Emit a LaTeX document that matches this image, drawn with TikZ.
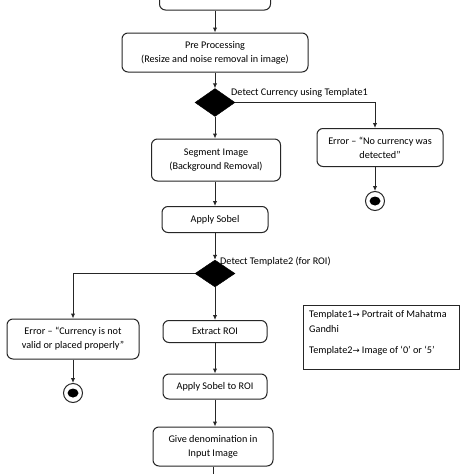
\documentclass[tikz,border=0pt]{standalone}
\usepackage{fontspec}
\setmainfont{Carlito}
\newfontfamily\symfont{DejaVu Sans}
\usetikzlibrary{arrows.meta,shapes.geometric}
\begin{document}
\begin{tikzpicture}[x=1pt,y=-1pt,
  line/.style={draw=black!85,line width=1pt},
  arr/.style={line,-{Latex[length=5pt,width=4.5pt]}},
  box/.style={line,rounded corners=6pt,align=center,inner sep=0pt,
    font=\fontsize{10.2}{14}\selectfont},
  dec/.style={diamond,fill=black,draw=black,inner sep=0pt,
    minimum width=40pt,minimum height=28pt},
  lbl/.style={font=\fontsize{10.2}{14}\selectfont,inner sep=0pt,anchor=west},
  endouter/.style={circle,line,fill=white,minimum size=19pt,inner sep=0pt},
  endinner/.style={ellipse,fill=black,minimum width=11pt,minimum height=9pt,inner sep=0pt}
]
\useasboundingbox (0,0) rectangle (474,474);
\clip (0,0) rectangle (474,474);
\fill[white] (0,0) rectangle (474,474);

\node[box,minimum width=111pt,minimum height=40pt] (top) at (215,-10) {};
\node[box,minimum width=186pt,minimum height=39pt] (pre) at (215,52.5)
  {Pre Processing\\(Resize and noise removal in image)};
\node[dec] (d1) at (215,102.5) {};
\node[lbl] (l1) at (231,93) {Detect Currency using Template1};
\node[box,minimum width=126pt,minimum height=38pt] (e1) at (380,147.5)
  {Error -- “No currency was\\detected”};
\node[endouter] (end1) at (375,201) {};
\node[endinner] at (end1) {};
\node[box,minimum width=129pt,minimum height=42pt] (seg) at (216,160)
  {Segment Image\\(Background Removal)};
\node[box,minimum width=106pt,minimum height=26pt] (sobel) at (215,219.5)
  {Apply Sobel};
\node[dec,minimum height=27pt] (d2) at (215,273.5) {};
\node[lbl] (l2) at (220,262) {Detect Template2 (for ROI)};
\node[box,minimum width=132pt,minimum height=40pt] (e2) at (73,339)
  {Error -- “Currency is not\\valid or placed properly”};
\node[endouter] (end2) at (73,393) {};
\node[endinner] at (end2) {};
\node[box,minimum width=104pt,minimum height=22pt] (roi) at (215,331.5)
  {Extract ROI};
\node[box,minimum width=104pt,minimum height=25pt] (sroi) at (215,386.5)
  {Apply Sobel to ROI};
\node[box,minimum width=120pt,minimum height=39pt] (give) at (213,446.5)
  {Give denomination in\\Input Image};
\coordinate (bot) at (213,480);

\node[line,rectangle,minimum width=156pt,minimum height=64pt,inner sep=0pt] (leg) at (381,337) {};
\node[lbl] at (309,315) {Template1{\symfont\fontsize{8.5}{10}\selectfont →} Portrait of Mahatma};
\node[lbl] at (309,328.5) {Gandhi};
\node[lbl] at (309,351) {Template2{\symfont\fontsize{8.5}{10}\selectfont →} Image of ‘0’ or ‘5’};

\draw[arr] (top.south) -- (pre.north);
\draw[arr] (pre.south) -- (d1.north);
\draw[arr] (d1.east) -| ([xshift=-5pt]e1.north);
\draw[arr] ([xshift=-5pt]e1.south) -- (end1.north);
\draw[arr] (d1.south) -- (d1.south |- seg.north);
\draw[arr] (seg.south -| sobel.north) -- (sobel.north);
\draw[arr] (sobel.south) -- (d2.north);
\draw[arr] (d2.west) -| (e2.north);
\draw[arr] (e2.south) -- (end2.north);
\draw[arr] (d2.south) -- (roi.north);
\draw[arr] (roi.south) -- (sroi.north);
\draw[arr] (sroi.south) -- (sroi.south |- give.north);
\draw[line] (give.south) -- (bot);
\end{tikzpicture}
\end{document}
